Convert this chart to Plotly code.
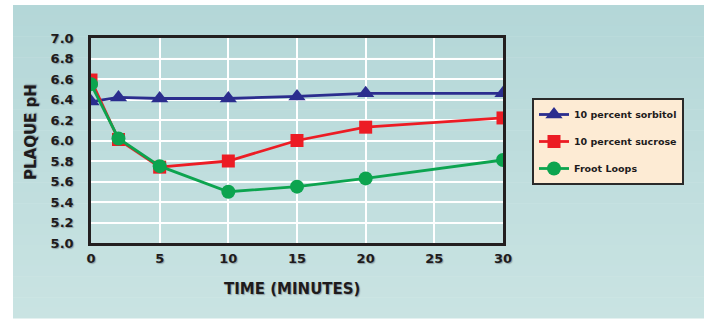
import plotly.graph_objects as go

time_min = [0, 2, 5, 10, 15, 20, 30]
sorbitol = [6.38, 6.42, 6.41, 6.41, 6.43, 6.46, 6.46]
sucrose = [6.59, 6.01, 5.74, 5.80, 6.00, 6.13, 6.22]
froot_loops = [6.55, 6.02, 5.75, 5.50, 5.55, 5.63, 5.81]

x_ticks = [0, 5, 10, 15, 20, 25, 30]
y_ticks = [5.0, 5.2, 5.4, 5.6, 5.8, 6.0, 6.2, 6.4, 6.6, 6.8, 7.0]

W, H = 709, 323
L, R, T, B = 91, 503, 38, 243

FONT = "DejaVu Sans"
TXT = "#1e1b1c"
SH = "1px 1px 1px rgba(40,40,60,0.35)"

fig = go.Figure()
fig.add_trace(go.Scatter(x=time_min, y=sorbitol, name="10 percent sorbitol", mode="lines+markers",
                         line=dict(color="#2b2d8e", width=2.8),
                         marker=dict(symbol="triangle-up", size=15, color="#2b2d8e"),
                         legendgroup="a"))
fig.add_trace(go.Scatter(x=time_min, y=sucrose, name="10 percent sucrose", mode="lines+markers",
                         line=dict(color="#ec1c24", width=2.8),
                         marker=dict(symbol="square", size=13, color="#ec1c24"),
                         legendgroup="b"))
fig.add_trace(go.Scatter(x=time_min, y=froot_loops, name="Froot Loops", mode="lines+markers",
                         line=dict(color="#0ca44f", width=2.8),
                         marker=dict(symbol="circle", size=14, color="#0ca44f"),
                         legendgroup="c"))


def px2x(p):
    return (p - L) / (R - L)


def py2y(p):
    return (B - p) / (B - T)


# gradient panel background
top_c = (180, 215, 216)
bot_c = (201, 227, 226)
n = 30
y_top, y_bot = 5, 318
shapes = []
for i in range(n):
    f = i / (n - 1)
    c = tuple(round(top_c[k] + (bot_c[k] - top_c[k]) * f) for k in range(3))
    p0 = y_top + (y_bot - y_top) * i / n
    p1 = y_top + (y_bot - y_top) * (i + 1) / n + 0.5
    shapes.append(dict(type="rect", xref="paper", yref="paper", layer="below",
                       x0=px2x(13), x1=px2x(704), y0=py2y(p1), y1=py2y(p0),
                       fillcolor="rgb(%d,%d,%d)" % c, line=dict(width=0)))

title_font = dict(family=FONT, size=15, color=TXT, weight="bold", shadow=SH)
annotations = [
    dict(text="TIME (MINUTES)", xref="paper", yref="paper", x=px2x(292), y=py2y(289),
         xanchor="center", yanchor="middle", showarrow=False, font=title_font),
    dict(text="PLAQUE pH", xref="paper", yref="paper", x=px2x(31), y=py2y(132),
         xanchor="center", yanchor="middle", showarrow=False, textangle=-90, font=title_font),
]

tick_font = dict(family=FONT, size=13, color=TXT, weight="bold", shadow=SH)

fig.update_layout(
    width=W, height=H,
    margin=dict(l=L, r=W - R, t=T, b=H - B),
    paper_bgcolor="white",
    plot_bgcolor="#fdebd4",
    shapes=shapes,
    annotations=annotations,
    font=dict(family=FONT, color=TXT),
    showlegend=True,
    legend=dict(x=px2x(532), y=py2y(98), xanchor="left", yanchor="top",
                bgcolor="#fdebd4", bordercolor="#2a2a2a", borderwidth=2,
                font=dict(family=FONT, size=9.5, color=TXT, weight="bold"),
                tracegroupgap=8, traceorder="grouped", itemwidth=30),
    xaxis=dict(range=[0, 30], tickvals=x_ticks, ticktext=[str(v) for v in x_ticks],
               showgrid=True, gridcolor="white", gridwidth=2,
               showline=True, linecolor="#231f20", linewidth=2.5, mirror=True,
               zeroline=False, ticks="", ticklabelstandoff=2, tickfont=tick_font),
    yaxis=dict(range=[5.0, 7.0], tickvals=y_ticks, ticktext=["%.1f" % v for v in y_ticks],
               showgrid=True, gridcolor="white", gridwidth=2,
               showline=True, linecolor="#231f20", linewidth=2.5, mirror=True,
               zeroline=False, ticks="", ticklabelstandoff=12, tickfont=tick_font),
)

fig.write_html("out.html")
